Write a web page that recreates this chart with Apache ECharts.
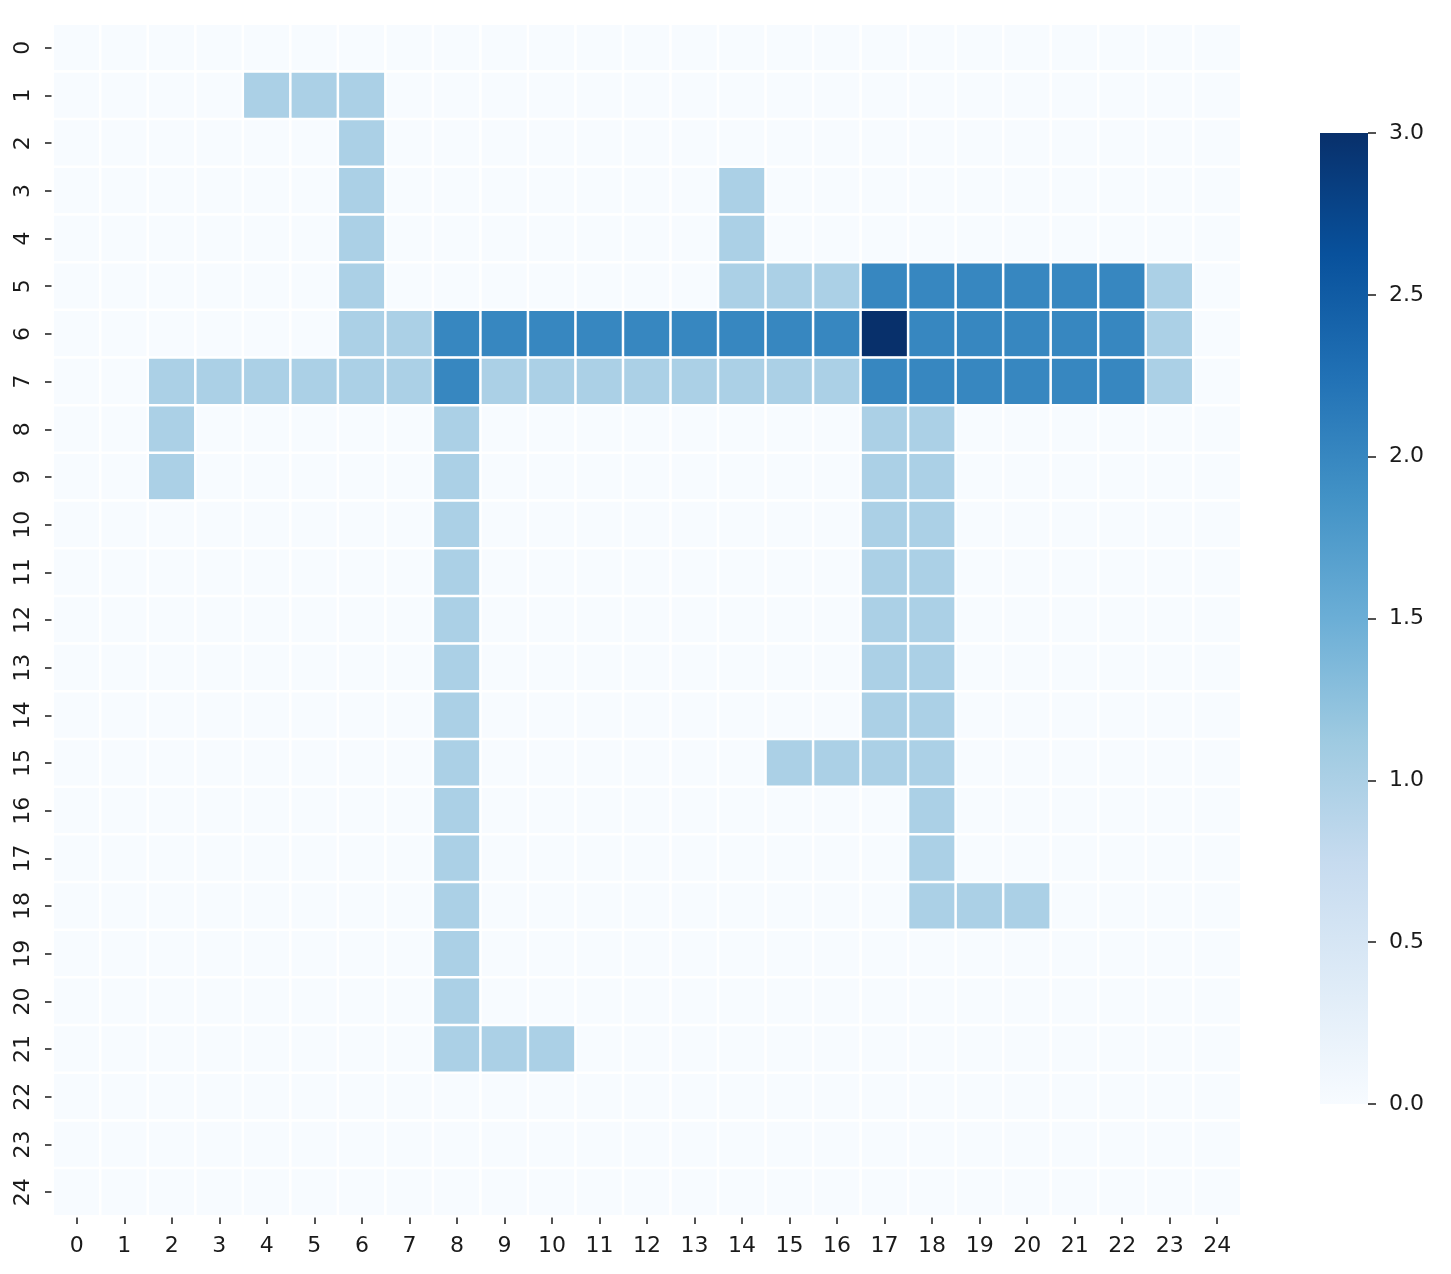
<!DOCTYPE html>
<html>
<head>
<meta charset="utf-8">
<script src="https://cdn.jsdelivr.net/npm/echarts@6/dist/echarts.min.js"></script>
<style>html,body{margin:0;padding:0;background:#fff;}#c{width:1451px;height:1274px;}</style>
</head>
<body>
<div id="c"></div>
<script>
var xLabels = ['0','1','2','3','4','5','6','7','8','9','10','11','12','13','14','15','16','17','18','19','20','21','22','23','24'];
var yLabels = ['0','1','2','3','4','5','6','7','8','9','10','11','12','13','14','15','16','17','18','19','20','21','22','23','24'];
var colorbarTicks = [0, 0.5, 1, 1.5, 2, 2.5, 3];
var blues = ['#f7fbff','#deebf7','#c6dbef','#9ecae1','#6baed6','#4292c6','#2171b5','#08519c','#08306b'];
var cellValues = [
  [0,0,0,0,0,0,0,0,0,0,0,0,0,0,0,0,0,0,0,0,0,0,0,0,0],
  [0,0,0,0,1,1,1,0,0,0,0,0,0,0,0,0,0,0,0,0,0,0,0,0,0],
  [0,0,0,0,0,0,1,0,0,0,0,0,0,0,0,0,0,0,0,0,0,0,0,0,0],
  [0,0,0,0,0,0,1,0,0,0,0,0,0,0,1,0,0,0,0,0,0,0,0,0,0],
  [0,0,0,0,0,0,1,0,0,0,0,0,0,0,1,0,0,0,0,0,0,0,0,0,0],
  [0,0,0,0,0,0,1,0,0,0,0,0,0,0,1,1,1,2,2,2,2,2,2,1,0],
  [0,0,0,0,0,0,1,1,2,2,2,2,2,2,2,2,2,3,2,2,2,2,2,1,0],
  [0,0,1,1,1,1,1,1,2,1,1,1,1,1,1,1,1,2,2,2,2,2,2,1,0],
  [0,0,1,0,0,0,0,0,1,0,0,0,0,0,0,0,0,1,1,0,0,0,0,0,0],
  [0,0,1,0,0,0,0,0,1,0,0,0,0,0,0,0,0,1,1,0,0,0,0,0,0],
  [0,0,0,0,0,0,0,0,1,0,0,0,0,0,0,0,0,1,1,0,0,0,0,0,0],
  [0,0,0,0,0,0,0,0,1,0,0,0,0,0,0,0,0,1,1,0,0,0,0,0,0],
  [0,0,0,0,0,0,0,0,1,0,0,0,0,0,0,0,0,1,1,0,0,0,0,0,0],
  [0,0,0,0,0,0,0,0,1,0,0,0,0,0,0,0,0,1,1,0,0,0,0,0,0],
  [0,0,0,0,0,0,0,0,1,0,0,0,0,0,0,0,0,1,1,0,0,0,0,0,0],
  [0,0,0,0,0,0,0,0,1,0,0,0,0,0,0,1,1,1,1,0,0,0,0,0,0],
  [0,0,0,0,0,0,0,0,1,0,0,0,0,0,0,0,0,0,1,0,0,0,0,0,0],
  [0,0,0,0,0,0,0,0,1,0,0,0,0,0,0,0,0,0,1,0,0,0,0,0,0],
  [0,0,0,0,0,0,0,0,1,0,0,0,0,0,0,0,0,0,1,1,1,0,0,0,0],
  [0,0,0,0,0,0,0,0,1,0,0,0,0,0,0,0,0,0,0,0,0,0,0,0,0],
  [0,0,0,0,0,0,0,0,1,0,0,0,0,0,0,0,0,0,0,0,0,0,0,0,0],
  [0,0,0,0,0,0,0,0,1,1,1,0,0,0,0,0,0,0,0,0,0,0,0,0,0],
  [0,0,0,0,0,0,0,0,0,0,0,0,0,0,0,0,0,0,0,0,0,0,0,0,0],
  [0,0,0,0,0,0,0,0,0,0,0,0,0,0,0,0,0,0,0,0,0,0,0,0,0],
  [0,0,0,0,0,0,0,0,0,0,0,0,0,0,0,0,0,0,0,0,0,0,0,0,0]
];

var heatData = [];
for (var r = 0; r < cellValues.length; r++) {
  for (var c = 0; c < cellValues[r].length; c++) {
    heatData.push([c, r, cellValues[r][c]]);
  }
}
var gradStops = blues.map(function (col, i) { return { offset: i / (blues.length - 1), color: col }; });

var textColor = '#1a1a1a';
var fontFamily = 'DejaVu Sans';
var fontSize = 22;

var chart = echarts.init(document.getElementById('c'), null, { renderer: 'canvas' });
chart.setOption({
  animation: false,
  backgroundColor: '#ffffff',
  textStyle: { fontFamily: fontFamily },
  grid: [
    { left: 53, top: 24, width: 1188, height: 1192, containLabel: false },
    { left: 1320, top: 133, width: 48, height: 971, show: true, borderWidth: 0,
      backgroundColor: new echarts.graphic.LinearGradient(0, 1, 0, 0, gradStops) }
  ],
  xAxis: [
    { type: 'category', gridIndex: 0, data: xLabels, position: 'bottom',
      axisLine: { show: false },
      axisTick: { show: true, alignWithLabel: true, length: 8, lineStyle: { color: textColor, width: 1.5 } },
      axisLabel: { color: textColor, fontSize: fontSize, fontFamily: fontFamily, margin: 19, interval: 0 },
      splitLine: { show: false } },
    { type: 'value', gridIndex: 1, min: 0, max: 1, show: false }
  ],
  yAxis: [
    { type: 'category', gridIndex: 0, data: yLabels, inverse: true, position: 'left',
      axisLine: { show: false },
      axisTick: { show: true, alignWithLabel: true, length: 8, lineStyle: { color: textColor, width: 1.5 } },
      axisLabel: { color: textColor, fontSize: fontSize, fontFamily: fontFamily, margin: 19, rotate: 90, interval: 0 },
      splitLine: { show: false } },
    { type: 'value', gridIndex: 1, min: colorbarTicks[0], max: colorbarTicks[colorbarTicks.length - 1], interval: 0.5,
      position: 'right',
      axisLine: { show: false, onZero: false },
      axisTick: { show: true, length: 8, lineStyle: { color: textColor, width: 1.5 } },
      axisLabel: { color: textColor, fontSize: fontSize, fontFamily: fontFamily, margin: 21,
        formatter: function (v) { return v.toFixed(1); } },
      splitLine: { show: false } }
  ],
  visualMap: {
    show: false, type: 'continuous', min: 0, max: 3, seriesIndex: 0, dimension: 2,
    inRange: { color: blues }
  },
  series: [
    { type: 'heatmap', xAxisIndex: 0, yAxisIndex: 0, data: heatData,
      itemStyle: { borderColor: '#ffffff', borderWidth: 2.5 },
      emphasis: { disabled: true } },
    { type: 'scatter', xAxisIndex: 1, yAxisIndex: 1, data: [], silent: true }
  ]
});
</script>
</body>
</html>
